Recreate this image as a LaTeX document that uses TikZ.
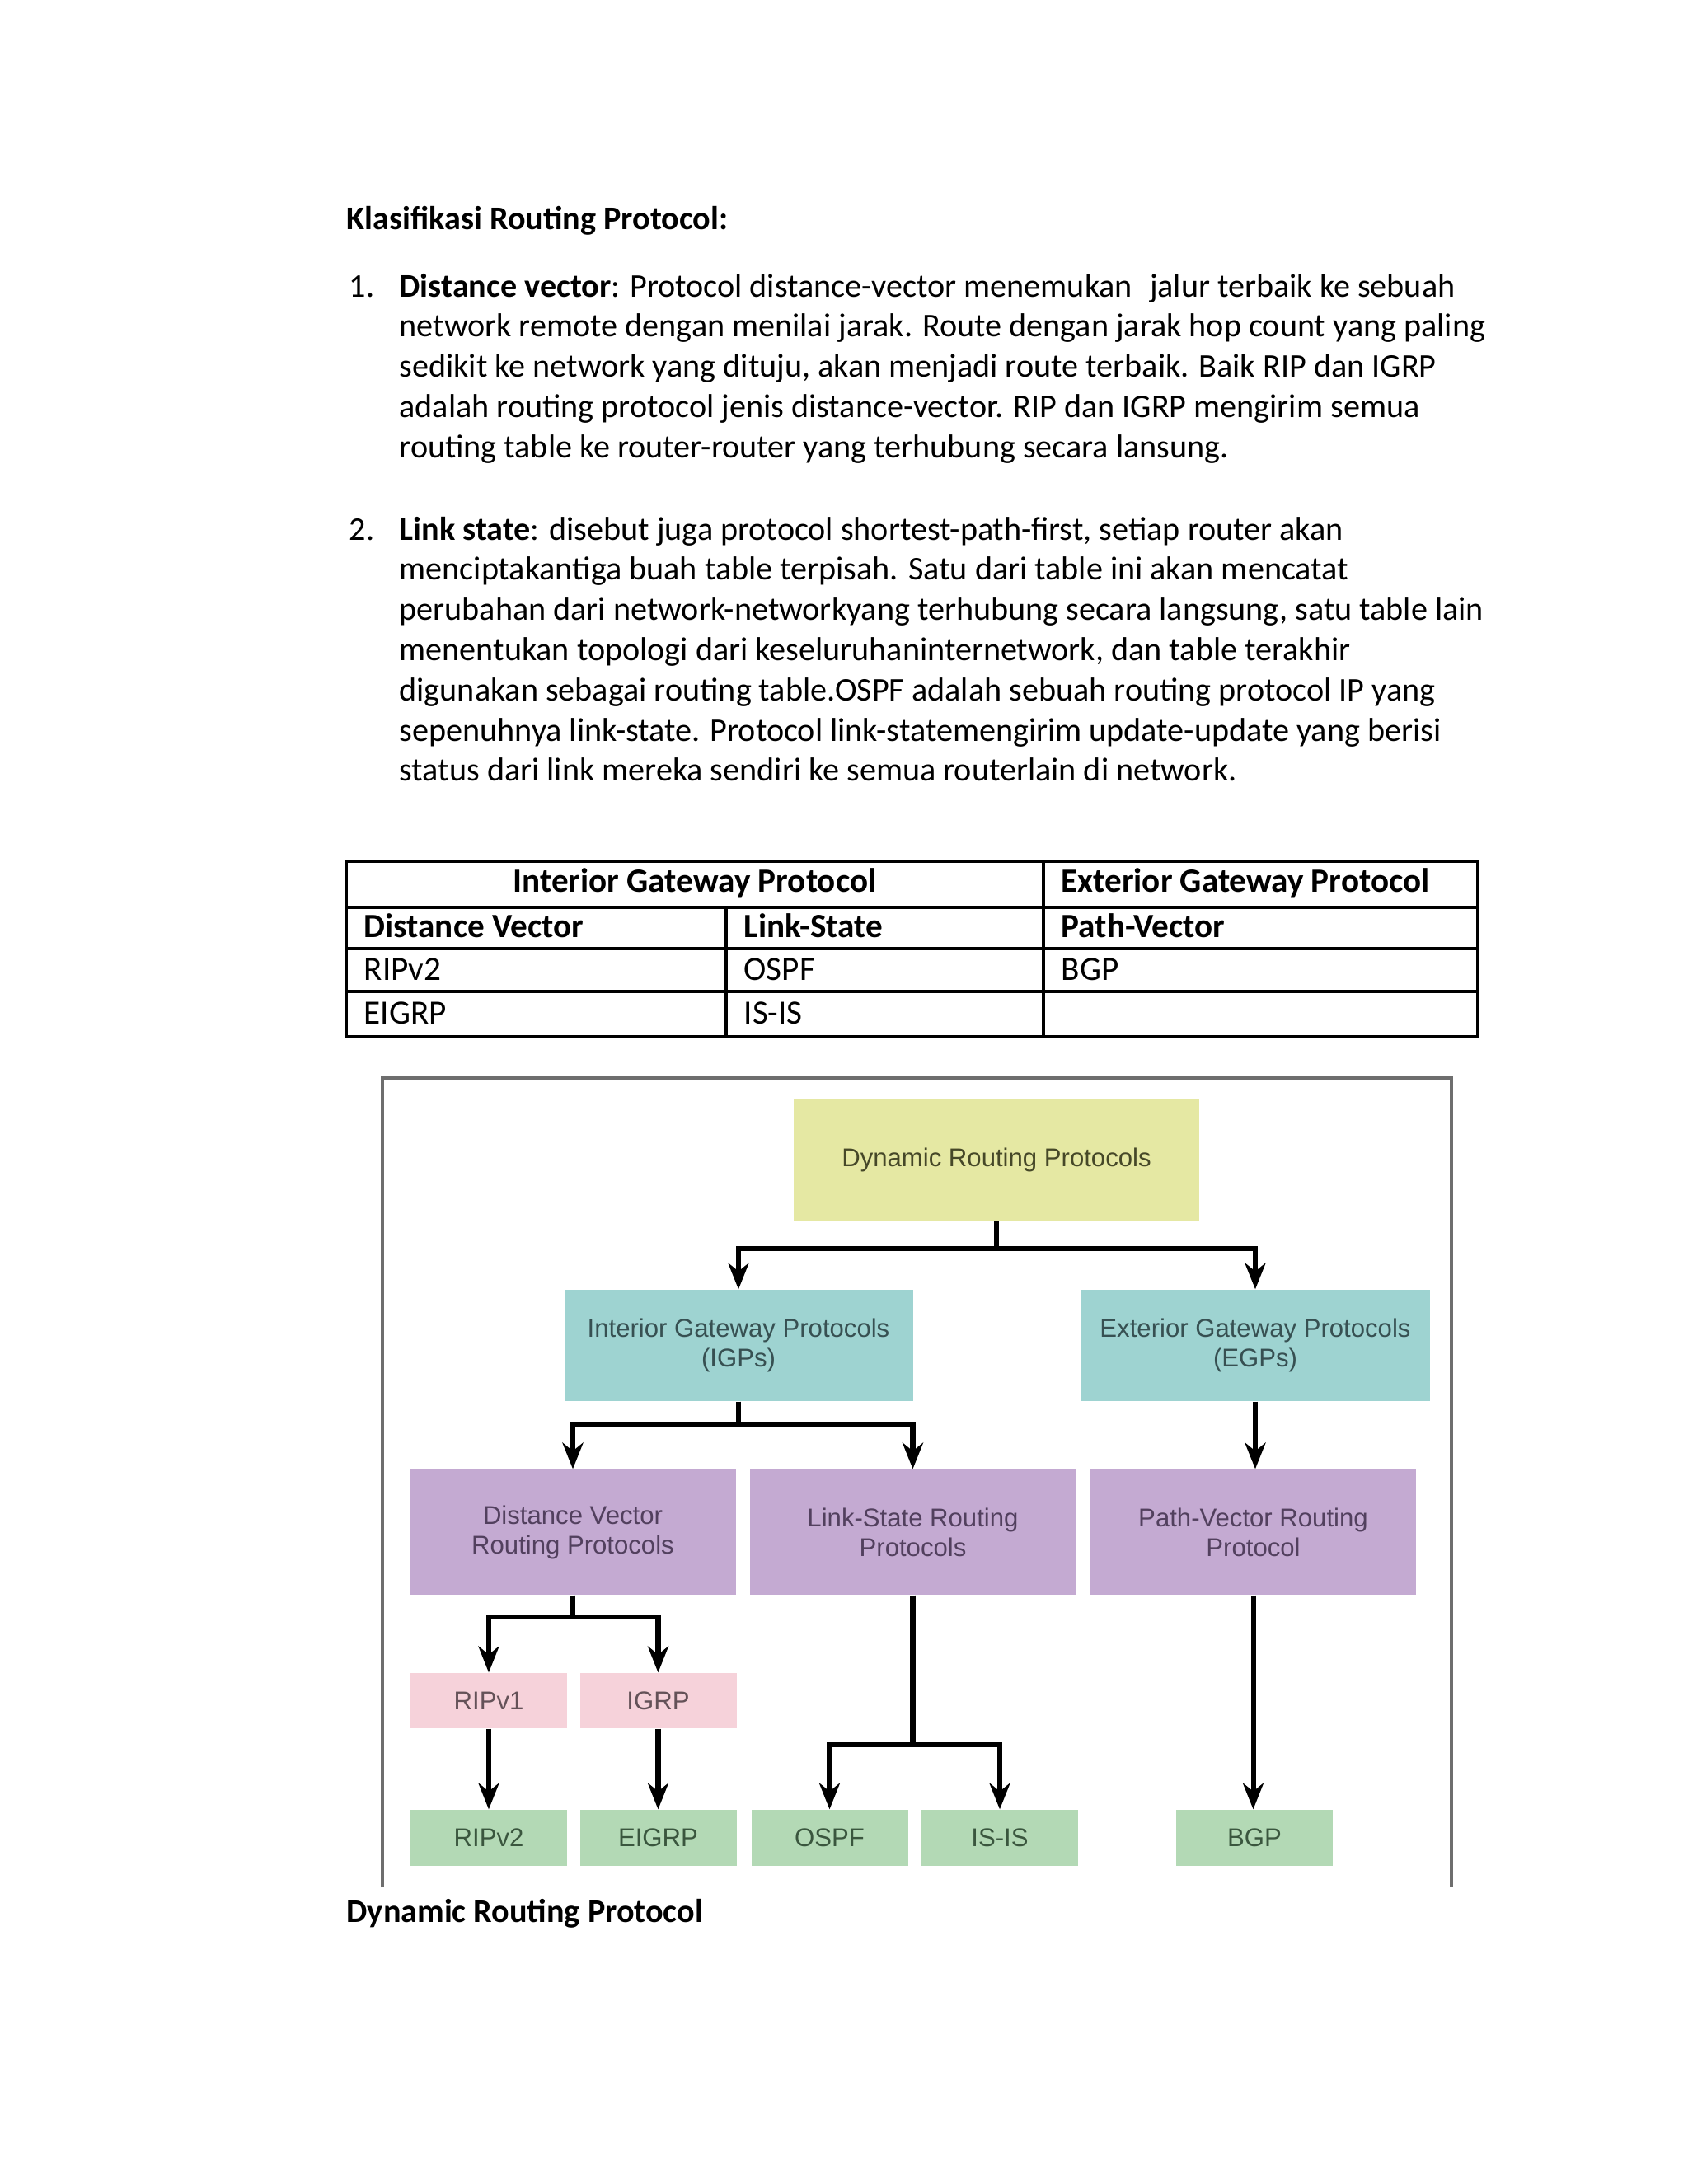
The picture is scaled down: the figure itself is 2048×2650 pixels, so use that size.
\documentclass[tikz,border=0pt]{standalone}
\usepackage{fontspec}
\setmainfont{Carlito}
\newfontfamily\boxfont{Liberation Sans}
\usetikzlibrary{arrows.meta,calc}

\definecolor{dynfill}{RGB}{229,232,163}
\definecolor{gwfill}{RGB}{158,211,209}
\definecolor{rtfill}{RGB}{196,170,210}
\definecolor{oldfill}{RGB}{246,210,218}
\definecolor{newfill}{RGB}{179,217,181}
\definecolor{dyntext}{RGB}{70,72,40}
\definecolor{gwtext}{RGB}{55,80,82}
\definecolor{rttext}{RGB}{82,64,94}
\definecolor{oldtext}{RGB}{100,82,88}
\definecolor{newtext}{RGB}{58,86,62}
\definecolor{framegray}{RGB}{110,110,110}

\newcommand{\pxunit}{0.29883pt}

\tikzset{
 body/.style={anchor=base west, inner sep=0pt, font=\fontsize{12}{14.6}\selectfont},
 cell/.style={body, font=\fontsize{12.3}{14.6}\selectfont},
 diabox/.style={inner sep=0pt, align=center, font=\boxfont\fontsize{9.3}{10.8}\selectfont},
 dynbox/.style={diabox, fill=dynfill, text=dyntext, minimum width=492*\pxunit, minimum height=147*\pxunit},
 gwbox/.style={diabox, fill=gwfill, text=gwtext, minimum width=423*\pxunit, minimum height=135*\pxunit},
 rtbox/.style={diabox, fill=rtfill, text=rttext, minimum width=395*\pxunit, minimum height=152*\pxunit},
 oldbox/.style={diabox, fill=oldfill, text=oldtext, minimum width=190*\pxunit, minimum height=67*\pxunit},
 newbox/.style={diabox, fill=newfill, text=newtext, minimum width=190*\pxunit, minimum height=68*\pxunit},
 conn/.style={line width=1.8pt, -{Stealth[length=9.5pt,width=7.5pt,inset=3pt]}},
 tabline/.style={line width=1pt},
}

\begin{document}
\begin{tikzpicture}[x=0.29883pt,y=-0.29883pt]
\fill[white] (0,0) rectangle (2048,2650);
\useasboundingbox (0,0) rectangle (2048,2650);

% teks
\node[body] (title) at (420,278) {\bfseries Klasifikasi Routing Protocol:};

\node[body] (num1) at (423,360) {1.};
\node[body] (dva) at (484,360) {\textbf{Distance vector}: Protocol distance-vector menemukan\hspace{0.3em} jalur terbaik ke sebuah};
\node[body] (dvb) at (484,408.8) {network remote dengan menilai jarak. Route dengan jarak hop count yang paling};
\node[body] (dvc) at (484,457.6) {sedikit ke network yang dituju, akan menjadi route terbaik. Baik RIP dan IGRP};
\node[body] (dvd) at (484,506.4) {adalah routing protocol jenis distance-vector. RIP dan IGRP mengirim semua};
\node[body] (dve) at (484,555.2) {routing table ke router-router yang terhubung secara lansung.};

\node[body] (num2) at (423,655) {2.};
\node[body] (lsa) at (484,655) {\textbf{Link state}: disebut juga protocol shortest-path-first, setiap router akan};
\node[body] (lsb) at (484,703.8) {menciptakantiga buah table terpisah. Satu dari table ini akan mencatat};
\node[body] (lsc) at (484,752.6) {perubahan dari network-networkyang terhubung secara langsung, satu table lain};
\node[body] (lsd) at (484,801.4) {menentukan topologi dari keseluruhaninternetwork, dan table terakhir};
\node[body] (lse) at (484,850.2) {digunakan sebagai routing table.OSPF adalah sebuah routing protocol IP yang};
\node[body] (lsf) at (484,899) {sepenuhnya link-state. Protocol link-statemengirim update-update yang berisi};
\node[body] (lsg) at (484,947.8) {status dari link mereka sendiri ke semua routerlain di network.};

% tabel
\draw[tabline] (420,1045) rectangle (1793,1258);
\draw[tabline] (420,1101) -- (1793,1101);
\draw[tabline] (420,1151) -- (1793,1151);
\draw[tabline] (420,1203) -- (1793,1203);
\draw[tabline] (1266,1045) -- (1266,1258);
\draw[tabline] (881,1101) -- (881,1258);

\node[cell, anchor=base] (igphead) at (843,1082) {\bfseries Interior Gateway Protocol};
\node[cell] (egphead) at (1287,1082) {\bfseries Exterior Gateway Protocol};
\node[cell] (dvhead) at (441,1137) {\bfseries Distance Vector};
\node[cell] (lshead) at (902,1137) {\bfseries Link-State};
\node[cell] (pvhead) at (1287,1137) {\bfseries Path-Vector};
\node[cell] (ripcell) at (441,1189) {RIPv2};
\node[cell] (ospfcell) at (902,1189) {OSPF};
\node[cell] (bgpcell) at (1287,1189) {BGP};
\node[cell] (eigrpcell) at (441,1242) {EIGRP};
\node[cell] (isiscell) at (902,1242) {IS-IS};

% gambar
\draw[framegray, line width=1pt] (464,2290) -- (464,1308) -- (1761,1308) -- (1761,2290);

\node[dynbox] (dyn) at (1209,1407.5) {Dynamic Routing Protocols};
\node[gwbox] (igp) at (896,1632.5) {Interior Gateway Protocols\\(IGPs)};
\node[gwbox] (egp) at (1523,1632.5) {Exterior Gateway Protocols\\(EGPs)};
\node[rtbox] (dv) at (695,1859) {Distance Vector\\Routing Protocols};
\node[rtbox] (ls) at (1107.5,1859) {Link-State Routing\\Protocols};
\node[rtbox] (pv) at (1520.5,1859) {Path-Vector Routing\\Protocol};
\node[oldbox] (rip1) at (593,2063.5) {RIPv1};
\node[oldbox] (igrp) at (798.5,2063.5) {IGRP};
\node[newbox] (rip2) at (593,2230) {RIPv2};
\node[newbox] (eigrp) at (798.5,2230) {EIGRP};
\node[newbox] (ospf) at (1006.5,2230) {OSPF};
\node[newbox] (isis) at (1213,2230) {IS-IS};
\node[newbox] (bgp) at (1522,2230) {BGP};

\draw[conn] (dyn.south) -- ++(0,33) -| (igp.north);
\draw[conn] (dyn.south) -- ++(0,33) -| (egp.north);
\draw[conn] (igp.south) -- ++(0,27) -| (dv.north);
\draw[conn] (igp.south) -- ++(0,27) -| (ls.north);
\draw[conn] (egp.south) -- (egp.south |- pv.north);
\draw[conn] (dv.south) -- ++(0,26) -| (rip1.north);
\draw[conn] (dv.south) -- ++(0,26) -| (igrp.north);
\draw[conn] (ls.south) -- ++(0,181) -| (ospf.north);
\draw[conn] (ls.south) -- ++(0,181) -| (isis.north);
\draw[conn] (pv.south) -- (pv.south |- bgp.north);
\draw[conn] (rip1.south) -- (rip2.north);
\draw[conn] (igrp.south) -- (eigrp.north);

\node[body] (caption) at (420,2332) {\bfseries Dynamic Routing Protocol};
\end{tikzpicture}
\end{document}
